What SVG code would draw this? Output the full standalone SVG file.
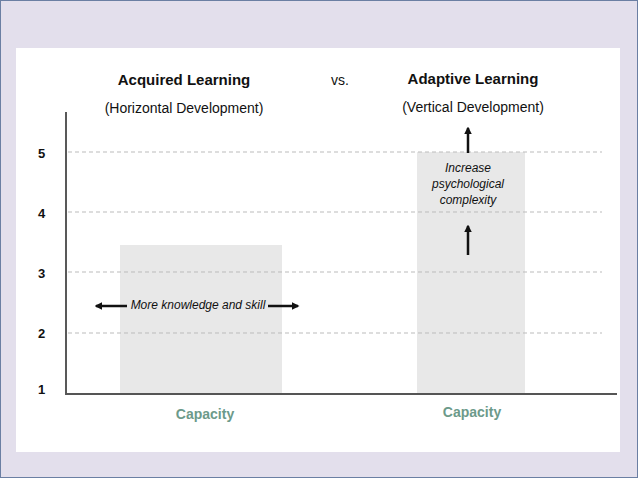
<svg xmlns="http://www.w3.org/2000/svg" width="638" height="478" viewBox="0 0 638 478">
<style>
text{font-family:"Liberation Sans",Arial,sans-serif;fill:#111}
.t{font-size:15px;font-weight:bold}
.s{font-size:14px}
.n{font-size:13px;font-weight:bold}
.c{font-size:14px;font-weight:bold;fill:#6c9a8a}
.i{font-size:12px;font-style:italic}
.g{stroke:#bbb;stroke-dasharray:4 3;stroke-width:1}
.a{stroke:#111;stroke-width:2.5;fill:none}
</style>
<defs><marker id="h" viewBox="0 0 10 10" refX="8" refY="5" markerWidth="3" markerHeight="3" orient="auto"><path d="M0,0L10,5L0,10z" fill="#111"/></marker></defs>
<rect x="0.5" y="0.5" width="637" height="477" fill="#e3dfec" stroke="#6b7fa3"/>
<rect x="16" y="48" width="604" height="404" fill="#fff"/>
<g id="bars">
<rect x="120" y="245" width="162" height="149" fill="#e8e8e8"/>
<rect x="417" y="152" width="108" height="242" fill="#e8e8e8"/>
</g>
<g id="grid">
<line class="g" x1="68" y1="152" x2="602" y2="152"/>
<line class="g" x1="68" y1="212" x2="602" y2="212"/>
<line class="g" x1="68" y1="272" x2="602" y2="272"/>
<line class="g" x1="68" y1="333" x2="602" y2="333"/>
</g>
<g id="axes" stroke="#222" stroke-width="1.5">
<line x1="66" y1="112" x2="66" y2="395"/>
<line x1="66" y1="394" x2="617" y2="394" stroke="#555" stroke-width="2"/>
</g>
<g id="ticks" class="n">
<text x="38" y="158" class="n">5</text>
<text x="38" y="218" class="n">4</text>
<text x="38" y="278" class="n">3</text>
<text x="38" y="338" class="n">2</text>
<text x="38" y="394" class="n">1</text>
</g>
<g id="titles" text-anchor="middle">
<text x="184" y="85" class="t">Acquired Learning</text>
<text x="340" y="85" class="s">vs.</text>
<text x="473" y="84" class="t">Adaptive Learning</text>
<text x="184" y="113" class="s">(Horizontal Development)</text>
<text x="473" y="112" class="s">(Vertical Development)</text>
</g>
<g id="acquired">
<text x="198" y="309" class="i" text-anchor="middle">More knowledge and skill</text>
<text x="205" y="419" class="c" text-anchor="middle">Capacity</text>
</g>
<g id="adaptive">
<text x="468" y="172" class="i" text-anchor="middle">Increase</text>
<text x="468" y="188" class="i" text-anchor="middle">psychological</text>
<text x="468" y="204" class="i" text-anchor="middle">complexity</text>
<text x="472" y="417" class="c" text-anchor="middle">Capacity</text>
</g>
<g id="connectors">
<line class="a" x1="127" y1="306" x2="96" y2="306" marker-end="url(#h)"/>
<line class="a" x1="268" y1="306" x2="298" y2="306" marker-end="url(#h)"/>
<line class="a" x1="468" y1="153" x2="468" y2="128" marker-end="url(#h)"/>
<line class="a" x1="468" y1="255" x2="468" y2="226" marker-end="url(#h)"/>
</g>
</svg>
